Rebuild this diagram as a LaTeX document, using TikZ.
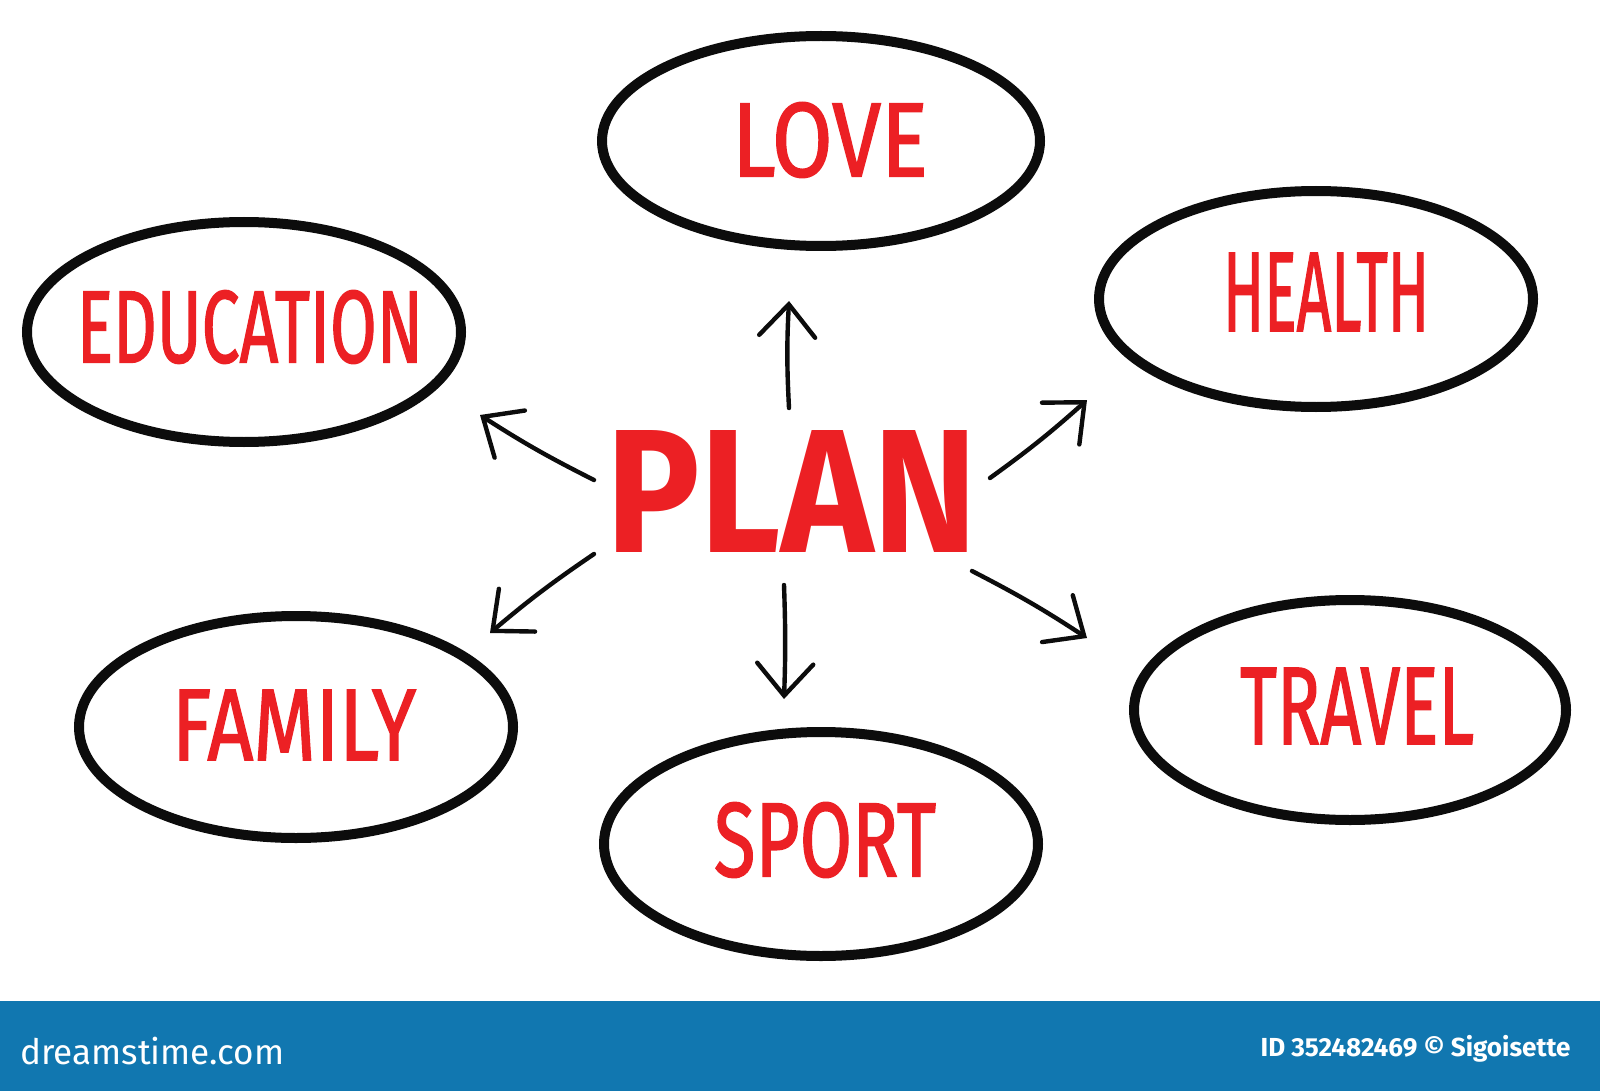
\documentclass[tikz,border=0pt]{standalone}
\usepackage{fontspec}
\setmainfont{Fira Sans}
\newfontfamily\brushfont[FakeBold=1.6]{Fira Sans}
\usepackage{graphicx}
\usetikzlibrary{shapes.geometric,arrows.meta}
\definecolor{inkred}{RGB}{236,32,36}
\definecolor{ink}{RGB}{12,12,12}
\definecolor{bannerblue}{RGB}{17,119,176}
\begin{document}
\begin{tikzpicture}[x=0.5pt,y=-0.5pt,
 bubble/.style={ellipse, draw=ink, line width=5pt, inner sep=0pt},
 word/.style={text=inkred, inner sep=0pt, font=\brushfont},
 ray/.style={draw=ink, line width=2.2pt, line cap=round,
   -{Straight Barb[length=16pt,width=28pt,line cap=round]}}]
\useasboundingbox (0,0) rectangle (1600,1091);
\fill[white] (0,0) rectangle (1600,1091);

% bubbles
\node[bubble, minimum width=219pt, minimum height=105pt] (love) at (821,141) {};
\node[bubble, minimum width=217pt, minimum height=108pt] (health) at (1316,299) {};
\node[bubble, minimum width=217pt, minimum height=110pt] (education) at (244,332) {};
\node[bubble, minimum width=217pt, minimum height=111pt] (family) at (296,727) {};
\node[bubble, minimum width=217pt, minimum height=112pt] (sport) at (821,844) {};
\node[bubble, minimum width=216pt, minimum height=110pt] (travel) at (1350,710) {};

% words
\node[word] (lovet) at (830,140) {\resizebox{98pt}{37pt}{LOVE}};
\node[word] (healtht) at (1326,292) {\resizebox{103pt}{39pt}{HEALTH}};
\node[word] (educationt) at (250,327) {\resizebox{173pt}{36pt}{EDUCATION}};
\node[word] (familyt) at (294,725) {\resizebox{122pt}{35pt}{FAMILY}};
\node[word] (sportt) at (825,840) {\resizebox{111pt}{37pt}{SPORT}};
\node[word] (travelt) at (1357,706) {\resizebox{117pt}{38pt}{TRAVEL}};
\node[word, font=\rmfamily\bfseries] (plan) at (792,491) {\resizebox{185pt}{61pt}{PLAN}};

% arrows
\coordinate (u0) at (789,408); \coordinate (u1) at (789,301);
\coordinate (ur0) at (990,478); \coordinate (ur1) at (1087,400);
\coordinate (ul0) at (594,480); \coordinate (ul1) at (480,415);
\coordinate (dl0) at (594,554); \coordinate (dl1) at (490,633);
\coordinate (d0) at (784,585); \coordinate (d1) at (784,699);
\coordinate (dr0) at (972,571); \coordinate (dr1) at (1087,638);
\draw[ray] (u0) to[bend left=3] (u1);
\draw[ray] (ur0) to[bend right=3] (ur1);
\draw[ray] (ul0) to[bend left=3] (ul1);
\draw[ray] (dl0) to[bend right=3] (dl1);
\draw[ray] (d0) to[bend left=2] (d1);
\draw[ray] (dr0) to[bend left=3] (dr1);

% banner
\fill[bannerblue] (0,1001) rectangle (1600,1091);
\node[text=white, anchor=west, inner sep=0pt] (logo) at (20,1051) {\resizebox{132pt}{!}{dreamstime.com}};
\node[text=white, anchor=east, inner sep=0pt] (credit) at (1571,1049) {\resizebox{155pt}{!}{\bfseries ID 352482469 © Sigoisette}};
\end{tikzpicture}
\end{document}
